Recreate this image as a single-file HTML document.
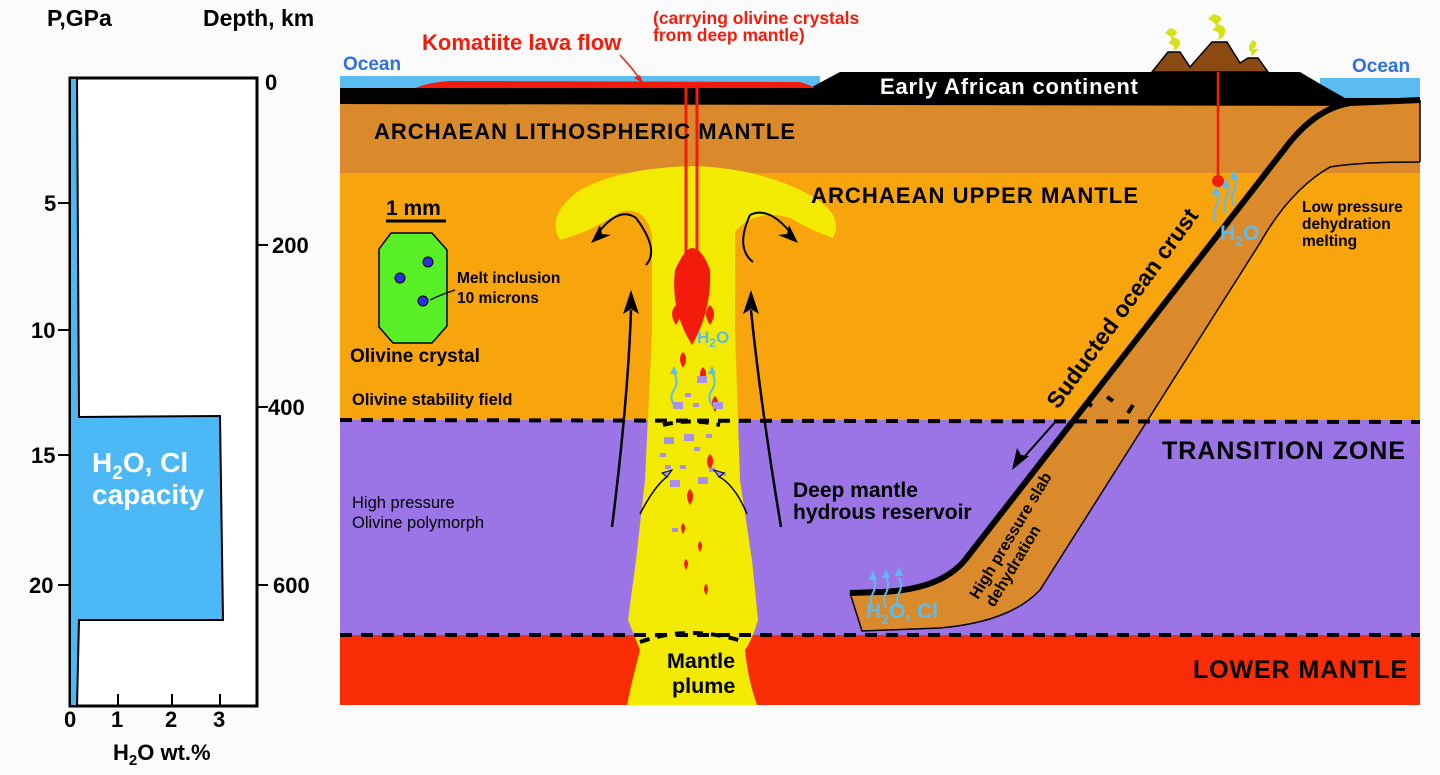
<!DOCTYPE html>
<html><head><meta charset="utf-8"><style>
html,body{margin:0;padding:0;background:#fbfbfb;}
svg{display:block;font-family:"Liberation Sans",Arial,sans-serif;font-weight:bold;}
</style></head><body>
<svg width="1440" height="775" viewBox="0 0 1440 775" xmlns="http://www.w3.org/2000/svg">
<rect width="1440" height="775" fill="#fbfbfb"/>
<!-- LEFT CHART -->
<text x="47" y="26" font-size="23">P,GPa</text>
<text x="203" y="26" font-size="23">Depth, km</text>
<rect x="70" y="78" width="187" height="628" fill="#fff" stroke="#000" stroke-width="3"/>
<path d="M70,78 L77,78 L79,417 L220,416 L223,620 L79,620 L77,706 L70,706 Z" fill="#4cb8f5" stroke="#000" stroke-width="2"/>
<text x="92" y="472" font-size="28" fill="#fff">H<tspan font-size="19" dy="7">2</tspan><tspan dy="-7">O, Cl</tspan></text>
<text x="92" y="504" font-size="28" fill="#fff">capacity</text>
<g stroke="#000" stroke-width="2">
<line x1="58" y1="203" x2="70" y2="203"/><line x1="58" y1="330" x2="70" y2="330"/>
<line x1="58" y1="455" x2="70" y2="455"/><line x1="58" y1="585" x2="70" y2="585"/>
<line x1="257" y1="245" x2="268" y2="245"/><line x1="257" y1="407" x2="268" y2="407"/><line x1="257" y1="585" x2="268" y2="585"/>
<line x1="118" y1="694" x2="118" y2="706"/><line x1="172" y1="694" x2="172" y2="706"/><line x1="220" y1="694" x2="220" y2="706"/>
</g>
<g font-size="22">
<text x="44" y="211">5</text><text x="31" y="338">10</text><text x="31" y="463">15</text><text x="29" y="593">20</text>
<text x="265" y="90">0</text><text x="272" y="253">200</text><text x="268" y="415">400</text><text x="273" y="593">600</text>
<text x="64" y="727">0</text><text x="111" y="727">1</text><text x="165" y="727">2</text><text x="213" y="727">3</text>
</g>
<text x="113" y="760" font-size="22">H<tspan font-size="15" dy="5">2</tspan><tspan dy="-5">O wt.%</tspan></text>

<!-- MAIN DIAGRAM LAYERS -->
<rect x="340" y="172" width="1080" height="250" fill="#f8a40d"/>
<rect x="340" y="420" width="1080" height="216" fill="#9b74e6"/>
<rect x="340" y="635" width="1080" height="70" fill="#f92d05"/>
<rect x="340" y="102" width="1080" height="71" fill="#da8a2a"/>
<rect x="340" y="76" width="480" height="14" fill="#5bbcef"/>
<rect x="1320" y="78" width="100" height="24" fill="#5bbcef"/>
<path d="M340,88 L830,88 L810,88 L840,72 L1300,72 L1322,85 L1345,98 L1420,98 L1420,106 L340,104 Z" fill="#000"/>
<path d="M415,88 Q430,82 450,81 L800,82 Q810,85 815,88 Z" fill="#f31c0c"/>
<!-- volcanoes -->
<path d="M1152,72 L1168,52 L1180,52 L1190,67 L1212,42 L1227,42 L1240,63 L1248,58 L1258,58 L1268,72 Z" fill="#8b4a12" stroke="#000" stroke-width="1.5"/>
<g fill="#d8e01a"><path d="M1170,28 q12,3 3,9 q12,3 4,12 l-4,2 q4,-5 -5,-8 q8,-4 -3,-10z"/><path d="M1213,14 q14,3 4,10 q14,3 5,14 l-5,2 q6,-7 -5,-10 q9,-5 -4,-11z"/><path d="M1253,40 q7,4 0,9 l6,0 l-9,9 q3,-4 0,-7 q-3,-4 3,-11z"/></g>

<!-- slab -->
<path d="M1420,100 L1350,103 Q1318,108 1290,142 L965,560 Q940,590 880,592 L850,593 L862,631 L940,628 Q1010,622 1040,590 L1260,243 Q1290,190 1330,167 Q1360,162 1420,162 Z" fill="#da8a2a"/>
<path d="M1420,162 Q1360,162 1330,167 Q1290,190 1260,243 L1040,590 Q1010,622 940,628 L862,631 L850,593" fill="none" stroke="#000" stroke-width="1.5"/>
<line x1="1420" y1="100" x2="1420" y2="162" stroke="#000" stroke-width="1.5"/>
<path d="M1420,100 L1350,103 Q1318,108 1290,142 L965,560 Q940,590 880,592 L850,593" fill="none" stroke="#000" stroke-width="6"/>

<!-- plume -->
<path d="M560,240 Q590,232 620,212 Q645,205 652,235 L652,330 L645,480 L636,560 L628,620 Q636,640 640,650 Q632,680 627,705 L757,705 Q748,680 745,650 Q752,640 758,620 L752,560 L740,480 L735,330 L735,232 Q755,208 790,218 Q815,232 833,238 Q845,215 810,195 Q760,168 693,166 Q620,168 580,190 Q545,215 560,240 Z" fill="#f2ea00"/>

<!-- dashed lines -->
<line x1="340" y1="420" x2="1420" y2="422" stroke="#000" stroke-width="4" stroke-dasharray="12,9"/>
<line x1="340" y1="635" x2="1420" y2="635" stroke="#000" stroke-width="4" stroke-dasharray="12,9"/>
<path d="M663,425 Q690,418 720,425" fill="none" stroke="#000" stroke-width="4" stroke-dasharray="10,8"/>
<path d="M640,642 Q690,624 745,642" fill="none" stroke="#000" stroke-width="4" stroke-dasharray="10,8"/>
<g stroke="#000" stroke-width="4"><line x1="1085" y1="402" x2="1092" y2="406"/><line x1="1107" y1="397" x2="1113" y2="401"/><line x1="1128" y1="413" x2="1133" y2="405"/></g>

<!-- conduit -->
<g stroke="#f31c0c" stroke-width="3"><line x1="686" y1="84" x2="686" y2="255"/><line x1="697" y1="84" x2="697" y2="255"/></g>
<path d="M692,345 Q670,310 675,270 Q685,248 692,248 Q702,248 710,270 Q712,310 692,345 Z" fill="#f31c0c"/>
<g fill="#f31c0c">
<path d="M676,325 q-8,-12 0,-20 q8,8 0,20z"/><path d="M710,325 q-8,-12 0,-20 q8,8 0,20z"/><path d="M693,337 q-8,-12 0,-20 q8,8 0,20z"/>
<path d="M683,368 q-6,-10 0,-16 q6,6 0,16z"/><path d="M703,383 q-6,-10 0,-16 q6,6 0,16z"/><path d="M710,470 q-6,-10 0,-16 q6,6 0,16z"/>
<path d="M690,505 q-6,-10 0,-16 q6,6 0,16z"/><path d="M683,534 q-4,-7 0,-11 q4,4 0,11z"/><path d="M700,552 q-4,-7 0,-11 q4,4 0,11z"/>
<path d="M686,570 q-4,-7 0,-11 q4,4 0,11z"/><path d="M706,595 q-4,-7 0,-11 q4,4 0,11z"/><path d="M715,412 q-6,-10 0,-16 q6,6 0,16z"/>
</g>
<g fill="#a98fee">
<rect x="697" y="376" width="10" height="7"/><rect x="685" y="393" width="6" height="4"/><rect x="673" y="402" width="10" height="7"/><rect x="693" y="403" width="6" height="4"/><rect x="713" y="402" width="10" height="7"/>
<rect x="664" y="437" width="10" height="7"/><rect x="684" y="434" width="10" height="7"/><rect x="706" y="434" width="6" height="4"/><rect x="694" y="447" width="6" height="4"/>
<rect x="665" y="465" width="6" height="4"/><rect x="680" y="465" width="6" height="4"/><rect x="670" y="480" width="10" height="7"/><rect x="698" y="477" width="10" height="7"/>
<rect x="709" y="468" width="6" height="4"/><rect x="720" y="472" width="6" height="4"/><rect x="672" y="528" width="6" height="4"/><rect x="660" y="453" width="6" height="4"/>
</g>
<g fill="none" stroke="#5bbcef" stroke-width="2"><path d="M674,405 q-5,-8 0,-15 q5,-8 0,-18"/><path d="M712,405 q-5,-8 0,-15 q5,-8 0,-18"/></g>
<g fill="#5bbcef"><path d="M670,374 l4,-8 l4,8z"/><path d="M708,374 l4,-8 l4,8z"/></g>
<text x="697" y="343" font-size="17" fill="#5bbcef">H<tspan font-size="12" dy="4">2</tspan><tspan dy="-4">O</tspan></text>

<!-- arrows -->
<g fill="none" stroke="#000" stroke-width="2.5">
<path d="M612,527 Q628,400 631,310"/><path d="M781,527 Q760,400 751,310"/>
<path d="M636,218 Q660,250 646,265" stroke-width="2"/><path d="M636,218 Q618,205 595,237" stroke-width="2"/>
<path d="M750,215 Q735,248 753,262" stroke-width="2"/><path d="M750,215 Q770,205 794,237" stroke-width="2"/>
<path d="M640,514 Q655,485 668,476" stroke-width="1.5"/><path d="M747,514 Q735,485 718,476" stroke-width="1.5"/>
<path d="M1025,456 L1057,420" stroke-width="2"/>
</g>
<g fill="#000">
<path d="M631,290 l-8,24 l8,-5 l8,5z"/><path d="M751,290 l-8,24 l8,-5 l8,5z"/>
<path d="M591,243 l20,-8 l-9,-1 l-2,-9z"/><path d="M798,243 l-20,-8 l9,-1 l2,-9z"/>
<path d="M1012,470 l5,-22 l4,7 l8,1z"/>
</g>
<g fill="#a98fee" stroke="#000" stroke-width="1"><path d="M672,470 l-10,3 l5,4z"/><path d="M714,470 l10,3 l-5,4z"/></g>

<!-- right conduit & H2O -->
<line x1="1218" y1="72" x2="1218" y2="177" stroke="#f31c0c" stroke-width="2.5"/>
<circle cx="1218" cy="181" r="6" fill="#f31c0c"/>
<g fill="none" stroke="#5bbcef" stroke-width="2"><path d="M1216,222 q-4,-8 0,-15 q4,-8 0,-15"/><path d="M1226,214 q-4,-8 0,-15 q4,-8 0,-15"/><path d="M1234,206 q-4,-8 0,-15 q4,-8 0,-15"/>
<path d="M873,608 q-4,-8 0,-15 q4,-8 0,-15"/><path d="M886,608 q-4,-8 0,-15 q4,-8 0,-15"/><path d="M899,608 q-4,-8 0,-15 q4,-8 0,-15"/></g>
<g fill="#5bbcef"><path d="M1212,195 l4,-9 l4,9z"/><path d="M1222,187 l4,-9 l4,9z"/><path d="M1230,179 l4,-9 l4,9z"/>
<path d="M869,580 l4,-9 l4,9z"/><path d="M882,578 l4,-9 l4,9z"/><path d="M895,576 l4,-9 l4,9z"/></g>
<text x="1220" y="240" font-size="21" fill="#5bbcef">H<tspan font-size="14" dy="6">2</tspan><tspan dy="-6">O</tspan></text>
<text x="866" y="618" font-size="21" fill="#5bbcef">H<tspan font-size="14" dy="6">2</tspan><tspan dy="-6">O, Cl</tspan></text>

<!-- crystal -->
<line x1="386" y1="221" x2="446" y2="221" stroke="#000" stroke-width="3"/>
<text x="386" y="215" font-size="21">1 mm</text>
<path d="M391,233 L432,233 L447,250 L447,326 L432,343 L393,343 L379,327 L379,249 Z" fill="#59ef27" stroke="#000" stroke-width="1.5"/>
<g fill="#2733e0" stroke="#000" stroke-width="1"><circle cx="400" cy="278" r="5"/><circle cx="428" cy="262" r="5"/><circle cx="423" cy="301" r="5"/></g>
<path d="M455,290 Q440,295 430,300" fill="none" stroke="#000" stroke-width="1.3"/>
<text x="457" y="283" font-size="15.5">Melt inclusion</text>
<text x="457" y="303" font-size="15.5">10 microns</text>
<text x="350" y="362" font-size="19">Olivine crystal</text>
<text x="352" y="405" font-size="16.5">Olivine stability field</text>
<text x="352" y="508" font-size="16.5" font-weight="normal">High pressure</text>
<text x="352" y="528" font-size="16.5" font-weight="normal">Olivine polymorph</text>

<!-- labels -->
<text x="343" y="70" font-size="19" fill="#2f6fe0">Ocean</text>
<text x="1352" y="72" font-size="19" fill="#2f6fe0">Ocean</text>
<text x="422" y="50" font-size="22" fill="#f31c0c">Komatiite lava flow</text>
<text x="653" y="24" font-size="17.5" fill="#f31c0c">(carrying olivine crystals</text>
<text x="653" y="41" font-size="17.5" fill="#f31c0c">from deep mantle)</text>
<path d="M620,55 Q632,68 640,79" fill="none" stroke="#f31c0c" stroke-width="1.5"/><path d="M643,83 l-9,-5 l6,-3z" fill="#f31c0c"/>
<text x="880" y="94" font-size="22" fill="#fff" textLength="258">Early African continent</text>
<text x="374" y="139" font-size="22" textLength="421">ARCHAEAN LITHOSPHERIC MANTLE</text>
<text x="811" y="203" font-size="22" textLength="327">ARCHAEAN UPPER MANTLE</text>
<text x="1162" y="459" font-size="25" textLength="243">TRANSITION ZONE</text>
<text x="1193" y="678" font-size="25" textLength="214">LOWER MANTLE</text>
<text x="793" y="497" font-size="21">Deep mantle</text>
<text x="793" y="519" font-size="21">hydrous reservoir</text>
<text x="667" y="668" font-size="21.5">Mantle</text>
<text x="672" y="693" font-size="21.5">plume</text>
<text x="1302" y="212" font-size="15.5">Low pressure</text>
<text x="1302" y="229" font-size="15.5">dehydration</text>
<text x="1302" y="246" font-size="15.5">melting</text>
<text transform="translate(1058,410) rotate(-54)" font-size="23">Suducted ocean crust</text>
<text transform="translate(978,600) rotate(-59)" font-size="16">High pressure slab</text>
<text transform="translate(994,608) rotate(-59)" font-size="16">dehydration</text>
</svg>
</body></html>
